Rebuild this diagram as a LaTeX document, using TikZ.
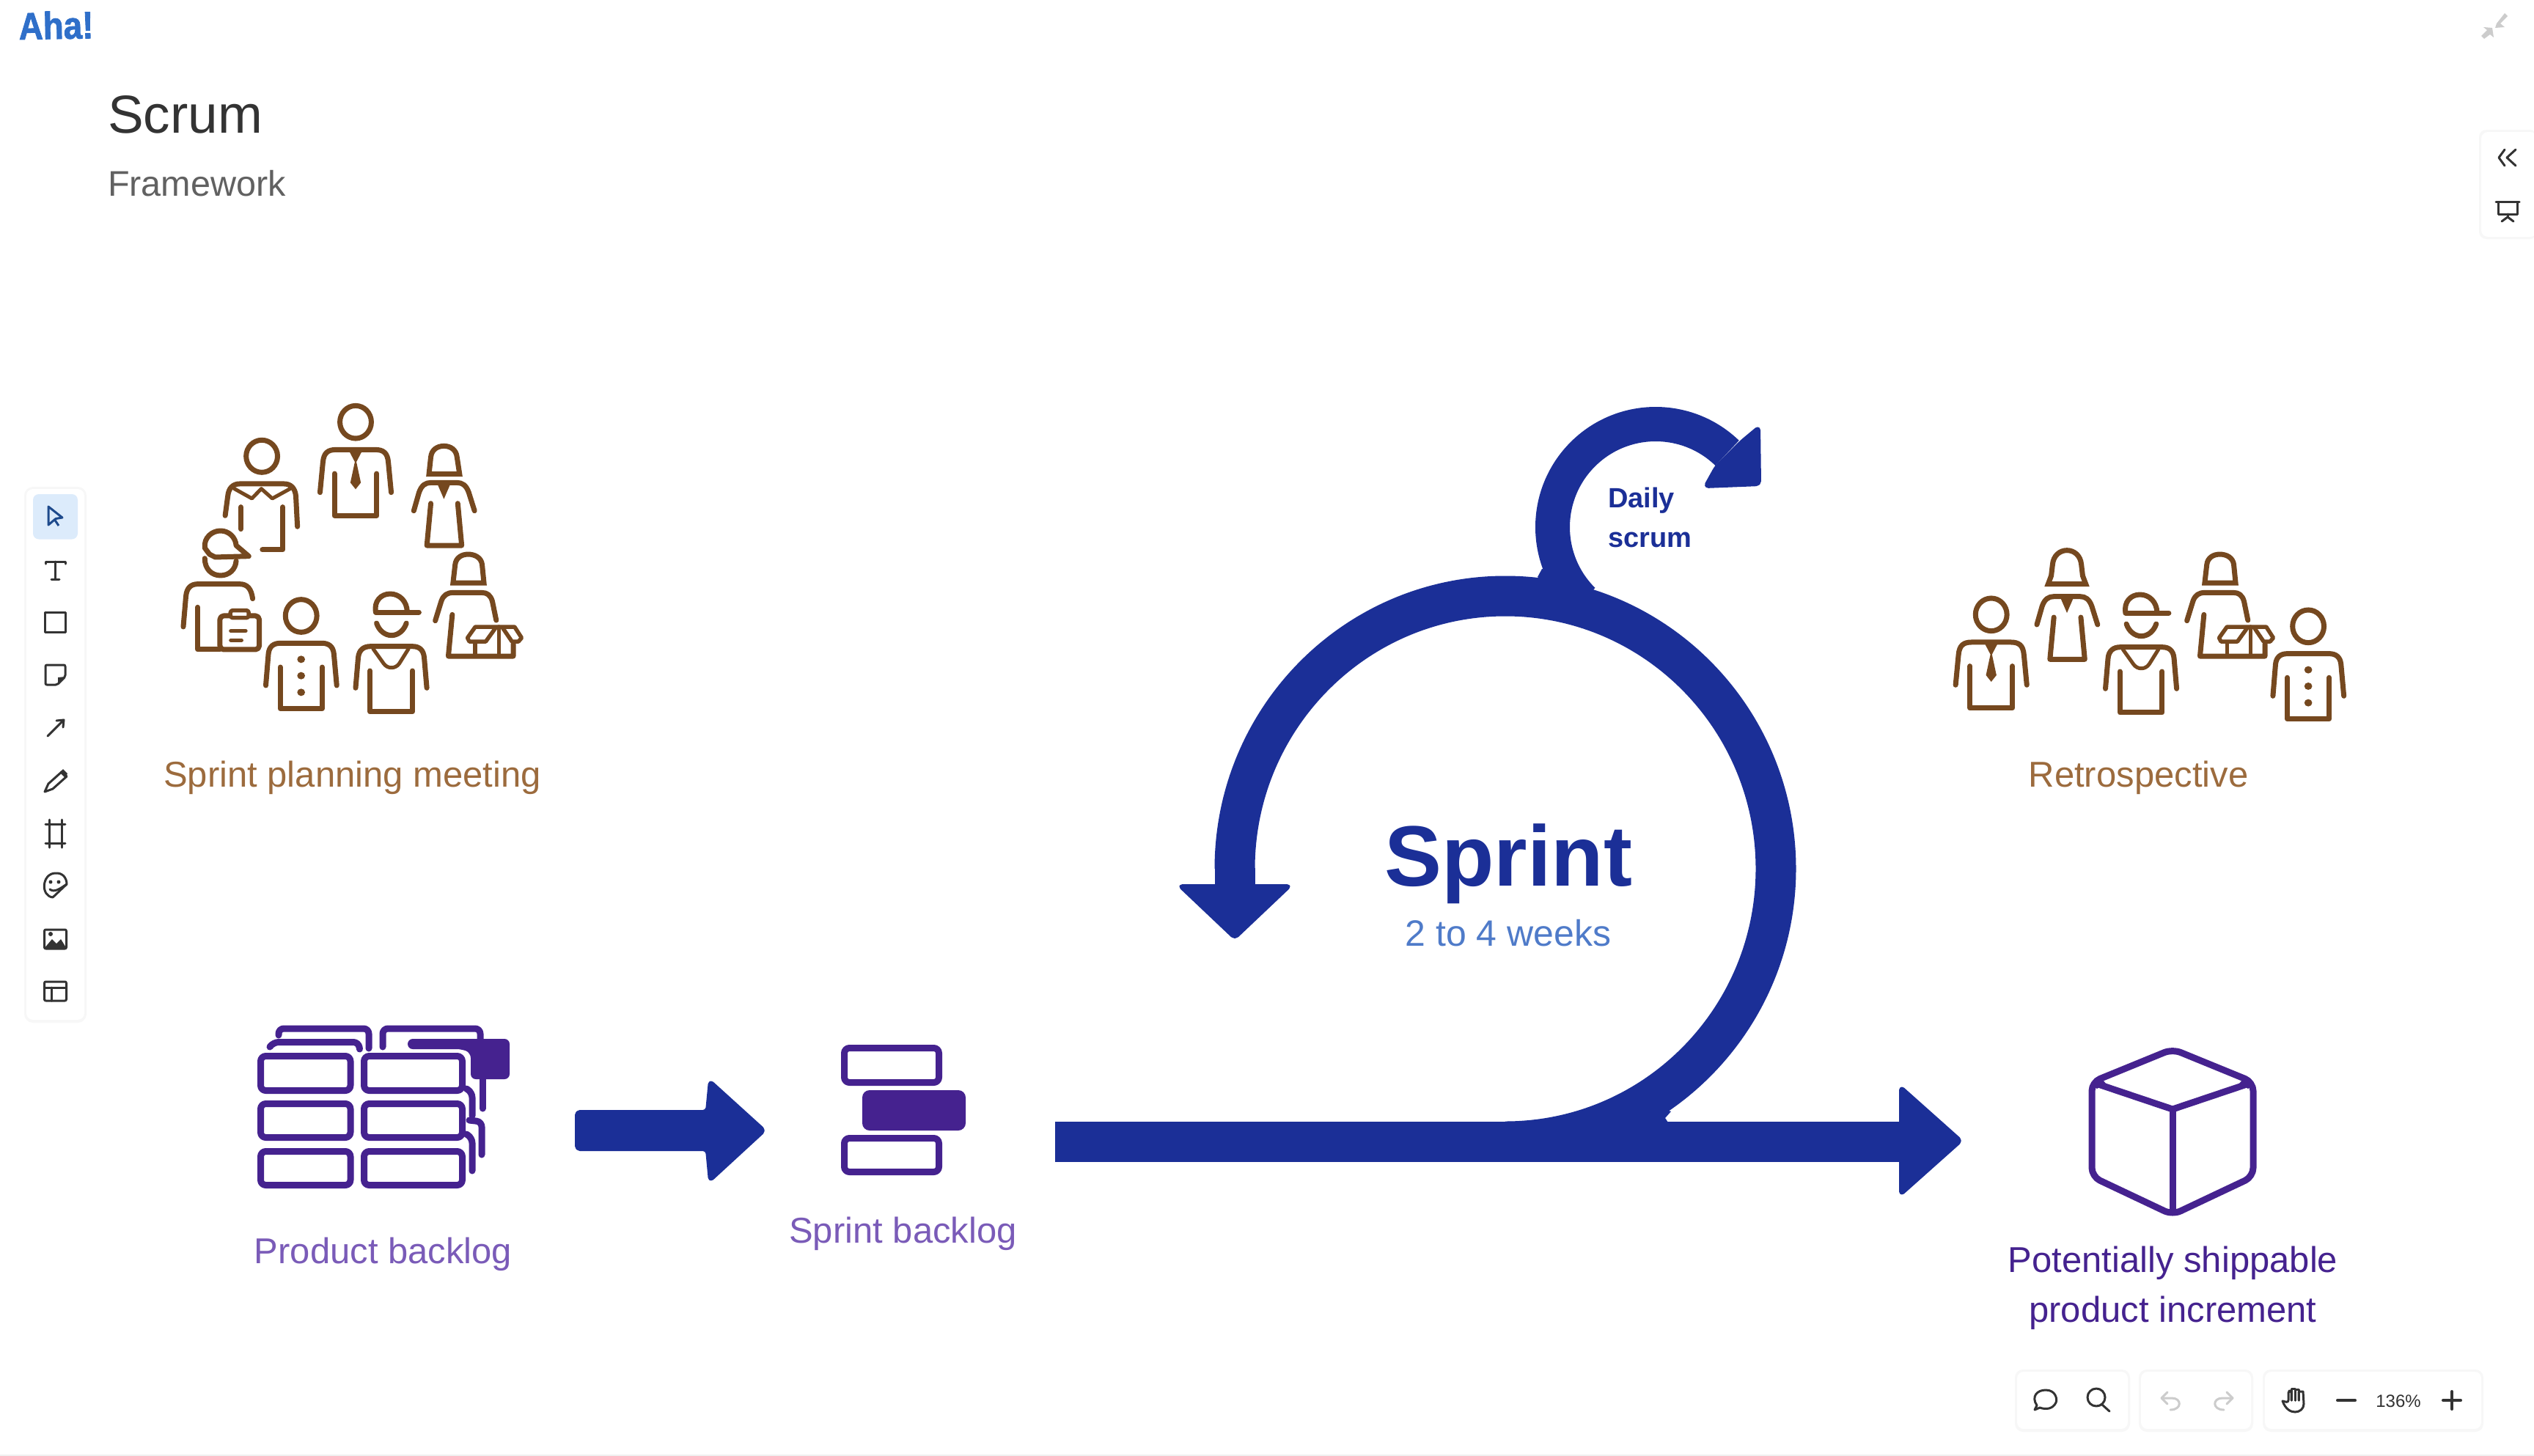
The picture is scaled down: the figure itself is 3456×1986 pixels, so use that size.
\documentclass[tikz,border=0pt]{standalone}
\usepackage{fontspec}
\setmainfont{Liberation Sans}
\newfontfamily\logofont[FakeBold=1.6,FakeStretch=0.88]{Liberation Sans Bold}
\definecolor{brownicon}{HTML}{75481F}
\definecolor{browntext}{HTML}{9C6B3D}
\definecolor{purpleicon}{HTML}{45228F}
\definecolor{purpletext}{HTML}{7A5BB8}
\definecolor{sprintblue}{HTML}{1B2F97}
\definecolor{midblue}{HTML}{4F7BC9}
\definecolor{logoblue}{HTML}{2F6FC9}
\definecolor{uidark}{HTML}{333333}
\definecolor{uigrey}{HTML}{CCCCCC}
\definecolor{uisel}{HTML}{DCEBFB}
\definecolor{cursorblue}{HTML}{1E4A8C}
\newcommand{\pxfont}[1]{\fontsize{#1}{#1}\selectfont}
\tikzset{
  txt/.style={inner sep=0pt,outer sep=0pt,anchor=base},
  txtl/.style={inner sep=0pt,outer sep=0pt,anchor=base west},
  icon/.style={xscale=0.357,yscale=0.3333,draw=brownicon,line width=7pt,line cap=round,line join=round,fill=none},
  pline/.style={draw=purpleicon,line width=9pt,line cap=round,line join=round},
  bluefill/.style={fill=sprintblue,draw=sprintblue,line width=4pt,line join=round,rounded corners=5pt},
  uiicon/.style={draw=uidark,line width=3pt,line cap=round,line join=round},
  greyicon/.style={draw=uigrey,line width=3pt,line cap=round,line join=round},
  persontie/.pic={
    \begin{scope}[icon]
      \draw (0,0) ellipse [x radius=60,y radius=67];
      \draw (-136,288) -- (-125,165) .. controls (-122,125) and (-105,113) .. (-75,113) -- (75,113) .. controls (105,113) and (122,125) .. (125,165) -- (136,288);
      \fill[brownicon] (-25,118) -- (25,118) -- (3,163) -- (20,248) -- (0,275) -- (-20,248) -- (-3,163) -- cycle;
      \draw (-81,211) -- (-81,383) -- (81,383) -- (81,211);
    \end{scope}},
  personcollar/.pic={
    \begin{scope}[icon]
      \draw (0,0) ellipse [x radius=60,y radius=66];
      \draw (-140,243) -- (-130,163) .. controls (-127,130) and (-110,113) .. (-85,113) -- (85,113) .. controls (110,113) and (127,130) .. (130,163) -- (136,288);
      \draw[line width=5pt] (-105,133) -- (-38,173) -- (-2,133) -- (40,173) -- (108,133);
      \draw (-80,208) -- (-80,298);
      \draw (80,208) -- (80,383) -- (2,383);
    \end{scope}},
  dressbody/.pic={
    \begin{scope}[icon]
      \draw (-115,210) -- (-95,135) .. controls (-85,105) and (-70,95) .. (-50,95) -- (50,95) .. controls (70,95) and (85,105) .. (95,135) -- (117,210);
      \fill[brownicon] (-25,100) -- (25,100) -- (0,162) -- cycle;
      \draw (-50,180) -- (-65,352) -- (68,352) -- (53,180);
    \end{scope}},
  persondress/.pic={
    \pic {dressbody};
    \begin{scope}[icon]
      \draw[line join=miter] (-57,60) -- (-50,-10) .. controls (-47,-40) and (-25,-55) .. (0,-55) .. controls (25,-55) and (47,-40) .. (50,-10) -- (60,60) -- cycle;
    \end{scope}},
  persondresstall/.pic={
    \pic {dressbody};
    \begin{scope}[icon]
      \draw[line join=miter] (-72,44) -- (-60,10) -- (-55,-36) .. controls (-52,-72) and (-28,-94) .. (0,-94) .. controls (28,-94) and (52,-72) .. (55,-36) -- (60,10) -- (72,44) -- cycle;
    \end{scope}},
  personbuttons/.pic={
    \begin{scope}[icon]
      \draw (0,0) ellipse [x radius=60,y radius=67];
      \draw (-135,285) -- (-125,155) .. controls (-122,125) and (-105,112) .. (-80,112) -- (80,112) .. controls (105,112) and (122,125) .. (125,155) -- (136,285);
      \fill[brownicon] (0,178) ellipse [x radius=15,y radius=15];
      \fill[brownicon] (0,245) ellipse [x radius=15,y radius=15];
      \fill[brownicon] (0,313) ellipse [x radius=15,y radius=15];
      \draw (-80,210) -- (-80,380) -- (80,380) -- (80,210);
    \end{scope}},
  personcap/.pic={
    \begin{scope}[icon]
      \draw (-60,-15) .. controls (-68,-60) and (-40,-90) .. (-5,-90) .. controls (30,-90) and (60,-60) .. (60,-15);
      \draw (-60,-15) -- (105,-15);
      \draw (-57,30) .. controls (-48,60) and (-25,80) .. (0,80) .. controls (25,80) and (48,60) .. (57,30);
      \draw (-137,295) -- (-127,170) .. controls (-124,140) and (-107,125) .. (-80,125) -- (80,125) .. controls (107,125) and (122,140) .. (125,170) -- (135,295);
      \draw[line width=5pt] (-70,135) -- (-30,195) .. controls (-15,218) and (15,218) .. (30,195) -- (65,135);
      \draw (-82,225) -- (-82,393) -- (80,393) -- (80,225);
    \end{scope}},
  personbox/.pic={
    \begin{scope}[icon]
      \draw[line join=miter] (-58,55) -- (-50,-20) .. controls (-47,-48) and (-25,-62) .. (0,-62) .. controls (25,-62) and (50,-48) .. (53,-20) -- (60,55) -- cycle;
      \draw (-126,210) -- (-103,130) .. controls (-95,105) and (-80,95) .. (-58,95) -- (52,95) .. controls (72,95) and (85,105) .. (92,130) -- (107,208);
      \draw (-61,185) -- (-76,355) -- (172,355) -- (172,305);
      \draw[line width=5.5pt] (104,240) -- (67,295) -- (4,295) -- (-3,280) -- (27,235) -- (177,235) -- (204,280) -- (192,295) -- (167,295) -- (132,240);
      \draw[line width=5.5pt] (27,300) -- (27,350);
      \draw[line width=5.5pt] (117,235) -- (117,350);
    \end{scope}}
}
\begin{document}
\begin{tikzpicture}[x=1pt,y=-1pt]
\useasboundingbox (0,0) rectangle (3456,1986);
\fill[white] (0,0) rectangle (3456,1986);
\draw[black!6,line width=2pt] (0,1985) -- (3456,1985);

% titles
\node[txtl,text=logoblue,font=\logofont\pxfont{52},rotate=1] (logo) at (26,54) {Aha!};
\node[txtl,text=uidark,font=\pxfont{73}] (title) at (147,181) {Scrum};
\node[txtl,text=black!62,font=\pxfont{48.6}] (subtitle) at (147,267) {Framework};

% planning group
\pic at (485,575.7) {persontie};
\pic at (357.1,622.3) {personcollar};
\pic at (605.4,626.7) {persondress};
\pic at (410.7,840) {personbuttons};
\pic at (533.9,840) {personcap};
\pic at (638.6,776.7) {personbox};
\begin{scope}[shift={(200,520)},icon]
  \draw (262,720) -- (240,708) -- (222,682) .. controls (218,640) and (250,612) .. (282,612) .. controls (315,612) and (340,640) .. (342,672) -- (390,716) -- cycle;
  \draw (222,725) .. controls (222,770) and (250,795) .. (282,795) .. controls (315,795) and (340,770) .. (342,735);
  \draw (140,1005) -- (150,880) .. controls (153,845) and (170,830) .. (195,830) -- (355,830) .. controls (385,830) and (400,850) .. (405,890);
  \draw (195,925) -- (195,1098) -- (280,1098);
  \draw[rounded corners=5pt,fill=white] (280,960) rectangle (430,1098);
  \draw[rounded corners=3pt,fill=white,line width=5.5pt] (320,938) rectangle (390,968);
  \draw[line width=5.5pt] (322,1022) -- (378,1022);
  \draw[line width=5.5pt] (322,1060) -- (362,1060);
\end{scope}
\node[txt,text=browntext,font=\pxfont{49}] (planning) at (480.5,1073) {Sprint planning meeting};

% retrospective group
\pic at (2715.7,838.3) {persontie};
\pic at (2819,782) {persondresstall};
\pic at (2920.4,841) {personcap};
\pic at (3027.6,776.7) {personbox};
\pic at (3148.1,854.3) {personbuttons};
\node[txt,text=browntext,font=\pxfont{49}] (retro) at (2916.5,1073) {Retrospective};

% product backlog
\begin{scope}[pline,rounded corners=7pt]
  \draw (380,1412) -- (380,1403) -- (503,1403) -- (503,1430);
  \draw (368,1428) -- (373,1421.5) -- (489,1421.5) -- (490.5,1431);
  \draw (522,1428) -- (522,1403) -- (655,1403) -- (655,1418);
  \draw (355.5,1440.5) rectangle (478,1487.5);
  \draw (496.5,1440.5) rectangle (630.5,1487.5);
  \draw (355.5,1505.5) rectangle (478,1551.5);
  \draw (496.5,1505.5) rectangle (630.5,1551.5);
  \draw (355.5,1570.5) rectangle (478,1616.5);
  \draw (496.5,1570.5) rectangle (630.5,1616.5);
  \draw (658,1470) -- (658,1512);
  \draw (636,1485) -- (644,1490) -- (644,1522);
  \draw (640,1528) -- (657,1530) -- (657,1575);
  \draw (636,1547) -- (644,1552) -- (644,1597);
\end{scope}
\fill[purpleicon,rounded corners=7pt] (556,1417) -- (695,1417) -- (695,1472) -- (642,1472) -- (642,1436) -- (630,1431) -- (556,1431) -- cycle;
\node[txt,text=purpletext,font=\pxfont{49}] (product) at (522.5,1723) {Product backlog};

% middle arrow
\path[bluefill] (786,1516) -- (964,1516) -- (968,1474) -- (1043,1542) -- (968,1611) -- (964,1568) -- (786,1568) -- cycle;

% sprint backlog
\begin{scope}[pline,rounded corners=7pt]
  \draw (1151.5,1429.5) rectangle (1280.5,1476.5);
  \draw (1151.5,1552.5) rectangle (1280.5,1598.5);
\end{scope}
\fill[purpleicon,rounded corners=10pt] (1176,1487) rectangle (1317,1542);
\node[txt,text=purpletext,font=\pxfont{49}] (sprintbl) at (1231.5,1695) {Sprint backlog};

% sprint spiral
\fill[sprintblue] (1439,1530) rectangle (2053,1585);
\draw[sprintblue,line width=55pt] (2053,1557) arc [start angle=90,end angle=-180,x radius=369,y radius=372];
\draw[sprintblue,line width=55pt] (1684,1184) -- (1684,1208);
\fill[sprintblue] (2053,1530) rectangle (2592,1585);
\path[bluefill] (2592,1530) -- (2592,1482) -- (2675,1556) -- (2592,1630) -- (2592,1583) -- cycle;
\fill[sprintblue] (2230,1500) -- (2279,1516) -- (2271,1525) -- (2275,1531) -- (2230,1531) -- cycle;
\path[bluefill] (1608,1208) -- (1760,1208) -- (1684,1280) -- cycle;
\draw[sprintblue,line width=47pt] (2158.65,818.35) arc [start angle=135,end angle=314,radius=140.5];
\fill[sprintblue] (2103,776) -- (2097,787) -- (2112,800) -- (2118,780) -- cycle;
\path[bluefill] (2375,602) -- (2399,582) -- (2400,661) -- (2325,664) -- (2340,637) -- cycle;
\node[txt,text=sprintblue,font=\bfseries\pxfont{117}] (sprint) at (2057,1208) {Sprint};
\node[txt,text=midblue,font=\pxfont{50}] (weeks) at (2057,1290) {2 to 4 weeks};
\node[txtl,text=sprintblue,font=\bfseries\pxfont{38}] (daily) at (2193,692) {Daily};
\node[txtl,text=sprintblue,font=\bfseries\pxfont{38}] (scrum) at (2193,746) {scrum};

% cube
\begin{scope}[draw=purpleicon,line width=9pt,line join=round]
  \draw[rounded corners=12pt] (2963,1431) -- (3073,1476) -- (3073,1605) -- (2963,1657) -- (2853,1605) -- (2853,1476) -- cycle;
  \draw (2856,1477) -- (2963,1513) -- (3070,1477);
  \draw (2963,1513) -- (2963,1652);
  \fill[purpleicon] (2852,1480) -- (2864,1468) -- (2872,1478) -- (2860,1485) -- cycle;
  \fill[purpleicon] (3074,1480) -- (3062,1468) -- (3054,1478) -- (3066,1485) -- cycle;
\end{scope}
\node[txt,text=purpleicon,font=\pxfont{49}] (pot1) at (2963.5,1735) {Potentially shippable};
\node[txt,text=purpleicon,font=\pxfont{49}] (pot2) at (2963.5,1803) {product increment};

% left toolbar
\fill[black!3,rounded corners=12pt] (33,664) rectangle (118,1395);
\fill[white,rounded corners=9pt] (36,667) rectangle (115,1391);
\fill[uisel,rounded corners=8pt] (45,674) rectangle (106,735.5);
\draw[draw=cursorblue,line width=3pt,line join=round] (66,691) -- (85,706) -- (76,707.5) -- (66,716) -- cycle (74,708) -- (80,717);
\begin{scope}[uiicon]
  \draw (62,769) -- (62,766) -- (89,766) -- (89,769);
  \draw (75.5,766) -- (75.5,790);
  \draw (70,790) -- (81,790);
  \draw (61.5,835) rectangle (89.5,862);
  \draw[rounded corners=2pt] (62,907) -- (89,907) -- (89,923) -- (78,934) -- (62,934) -- cycle;
  \fill[uidark] (79,933) -- (89,923) -- (79,924) -- cycle;
  \draw (65,1004) -- (87,982);
  \draw (77,983) -- (87,982) -- (86,992);
  \draw (61,1080) -- (66,1069) -- (85,1052) -- (91,1059) -- (72,1076) -- cycle;
  \fill[uidark] (82,1054) -- (86,1049) -- (92,1055) -- (89,1061) -- cycle;
  \draw (62,1124) -- (89,1124);
  \draw (62,1150) -- (89,1150);
  \draw (67,1118) -- (67,1156);
  \draw (84,1118) -- (84,1156);
  \draw (72,1224) .. controls (55,1222) and (57,1192) .. (75,1191) .. controls (85,1190) and (91,1197) .. (91,1206) -- (72,1224);
  \draw (68,1213) .. controls (74,1218) and (82,1212) .. (91,1206);
  \fill[uidark] (69,1203) circle [radius=2.5];
  \fill[uidark] (80,1203) circle [radius=2.5];
  \draw[rounded corners=2pt] (60.5,1268) rectangle (90.5,1294);
  \fill[uidark] (60,1294) -- (71,1281) -- (77,1287) -- (83,1281) -- (91,1294) -- cycle;
  \fill[uidark] (69,1274) circle [radius=3];
  \draw[rounded corners=2pt] (60.5,1339) rectangle (90.5,1365);
  \draw (60.5,1347) -- (90.5,1347);
  \draw (70,1347) -- (70,1365);
\end{scope}

% top right
\fill[uigrey] (3405,32) -- (3416,18) -- (3420,22) -- (3410,32) -- (3416,37) -- (3403,38) -- cycle;
\fill[uigrey] (3399,38) -- (3401,51) -- (3396,47) -- (3388,53) -- (3384,49) -- (3392,41) -- (3387,37) -- cycle;
\fill[black!3,rounded corners=10pt] (3381,177) rectangle (3460,326);
\fill[white,rounded corners=9pt] (3384,180) rectangle (3460,323);
\begin{scope}[uiicon]
  \draw (3416,204) -- (3408,215) -- (3416,226);
  \draw (3431,204) -- (3419,215) -- (3431,226);
  \draw (3404,275) -- (3436,275);
  \draw (3407,276) -- (3407,292) -- (3433,292) -- (3433,276);
  \draw (3420,292) -- (3420,296);
  \draw (3412,302) -- (3420,296) -- (3428,302);
\end{scope}

% bottom toolbars
\foreach \a/\b in {2751/2902,2920/3070,3089/3384}{
  \fill[black!3,rounded corners=11pt] (\a-3,1868) rectangle (\b+3,1953);
  \fill[white,rounded corners=9pt] (\a,1871) rectangle (\b,1949);
}
\begin{scope}[uiicon]
  \draw (2778,1917) .. controls (2770,1905) and (2778,1896) .. (2790,1896) .. controls (2804,1896) and (2806,1909) .. (2804,1913) .. controls (2800,1922) and (2790,1923) .. (2782,1920) -- (2775,1923) -- cycle;
  \draw (2859,1906) ellipse [x radius=12,y radius=12];
  \draw (2867,1916) -- (2877,1925);
\end{scope}
\begin{scope}[greyicon]
  \draw (2956,1899) -- (2948,1907) -- (2956,1915);
  \draw (2948,1907) -- (2962,1907) .. controls (2976,1907) and (2976,1923) .. (2960,1923);
  \draw (3037,1899) -- (3045,1907) -- (3037,1915);
  \draw (3045,1907) -- (3031,1907) .. controls (3017,1907) and (3017,1923) .. (3033,1923);
\end{scope}
\begin{scope}[uiicon]
  \draw[rounded corners=3pt] (3113,1911) -- (3121,1913) -- (3121,1897) -- (3125,1897) -- (3125,1910);
  \draw (3125,1910) -- (3125,1894) -- (3130,1894) -- (3130,1910);
  \draw (3130,1910) -- (3130,1895) -- (3135,1895) -- (3135,1910);
  \draw (3135,1910) -- (3135,1898) -- (3141,1898) -- (3142,1915) .. controls (3142,1922) and (3136,1926) .. (3130,1926) .. controls (3124,1926) and (3117,1922) .. (3113,1911);
  \draw[line width=4pt] (3188,1910) -- (3212,1910);
  \draw[line width=4pt] (3332,1910) -- (3356,1910);
  \draw[line width=4pt] (3344,1898) -- (3344,1922);
\end{scope}
\node[txt,text=uidark,font=\pxfont{24}] (zoompct) at (3271,1919) {136\%};
\end{tikzpicture}
\end{document}
